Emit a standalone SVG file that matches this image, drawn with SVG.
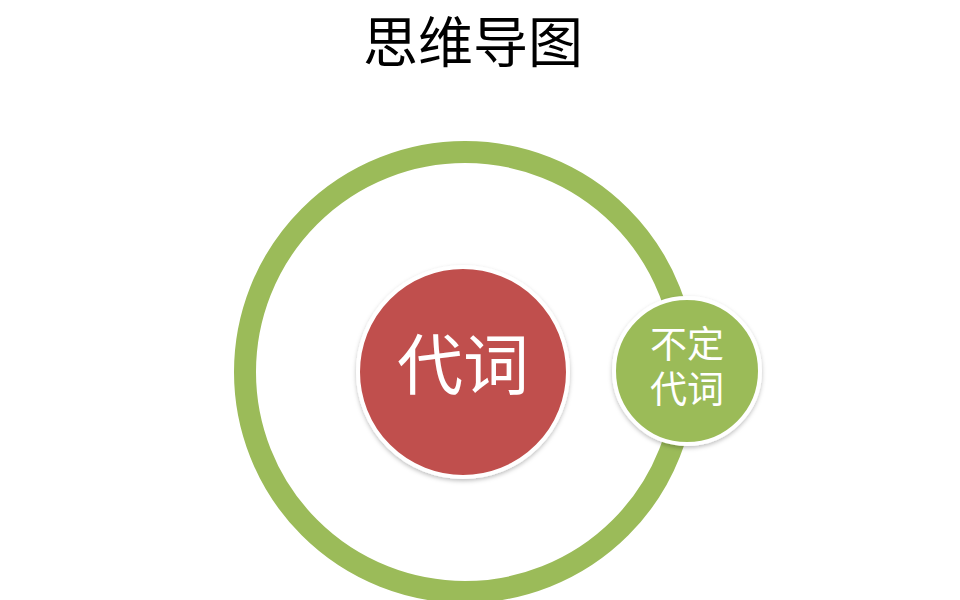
<svg xmlns="http://www.w3.org/2000/svg" width="960" height="600" viewBox="0 0 960 600">
<defs>
<style>
.t{font-family:"Noto Sans CJK SC","Noto Sans CJK TC",sans-serif;text-anchor:middle}
</style>
<filter id="sh" x="-20%" y="-20%" width="140%" height="140%">
<feDropShadow dx="0" dy="2" stdDeviation="2" flood-color="#000" flood-opacity="0.25"/>
</filter>
</defs>
<rect width="960" height="600" fill="#fff"/>
<text class="t" x="473" y="62" font-size="55" fill="#000">思维导图</text>
<g id="ring">
<circle cx="465" cy="372" r="220" fill="none" stroke="#9BBB59" stroke-width="22"/>
</g>
<g id="center">
<circle cx="463" cy="372" r="105" fill="#C0504D" stroke="#fff" stroke-width="4" filter="url(#sh)"/>
<text class="t" x="463" y="389" font-size="66" fill="#fff">代词</text>
</g>
<g id="node1">
<circle cx="687" cy="371" r="73" fill="#9BBB59" stroke="#fff" stroke-width="4" filter="url(#sh)"/>
<text class="t" font-size="37" fill="#fff"><tspan x="687" y="358">不定</tspan><tspan x="687" y="403">代词</tspan></text>
</g>
<g id="connectors"/>
</svg>
